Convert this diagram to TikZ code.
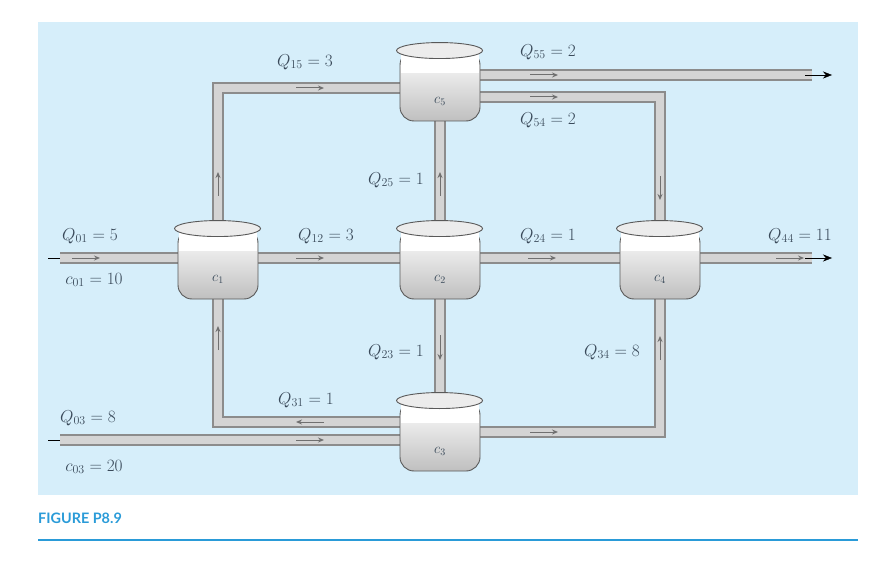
\documentclass[tikz,border=0pt]{standalone}
\usepackage{fontspec}
\setmainfont{Lato}
\usetikzlibrary{arrows.meta,calc}
\definecolor{bg}{HTML}{D6EEFA}
\definecolor{capblue}{HTML}{2A9BD8}
\definecolor{pipeg}{HTML}{8C8C8C}
\definecolor{pipel}{HTML}{D4D4D4}
\definecolor{txt}{HTML}{3A4A5A}
\tikzset{
 pipeo/.style={draw=pipeg,line width=12pt},
 pipei/.style={draw=pipel,line width=8pt},
 flow/.style={draw=pipeg!80!black,line width=1pt,-{Stealth[length=6pt,width=5pt]}},
 lbl/.style={text=txt,font=\LARGE},
 beaker/.style={draw=gray!70!black,line width=0.9pt,minimum width=80pt,minimum height=70pt,
   rounded corners=14pt,top color=white,bottom color=gray!50,inner sep=0pt},
 rim/.style={draw=gray!70!black,line width=0.9pt,fill=gray!15}
}
\newcommand{\pipeline}[1]{\draw[pipeo] #1; \draw[pipei] #1;}
\newcommand{\mybeaker}[4]{%
 \node[beaker] (#1) at (#2,#3) {};
 \fill[white] ($(#1.north west)+(1,1)$) rectangle ($(#1.north east)+(-1,22)$);
 \draw[rim] ($(#1.north west)+(-3,0)$) arc[start angle=180,end angle=360,x radius=43,y radius=8]
   arc[start angle=0,end angle=180,x radius=43,y radius=8];
 \node[text=txt,font=\Large] at ($(#1.south)+(0,-20)$) {$#4$};}
\begin{document}
\begin{tikzpicture}[x=1pt,y=-1pt]
\useasboundingbox (0,0) rectangle (892,575);
\fill[bg] (38,22) rectangle (858,495);
\node[anchor=west,text=capblue,font=\Large\bfseries,inner sep=0pt] (cap) at (38,518) {FIGURE P8.9};
\draw[capblue,line width=1.5pt] (38,540) -- (858,540);
\coordinate (in1) at (60,258);
\coordinate (out4) at (812,258);
\coordinate (out5) at (812,75);
\coordinate (in3) at (60,440);
\pipeline{(218,258) -- (218,88) -- (440,88)}
\pipeline{(440,75) -- (out5)}
\pipeline{(440,97) -- (660,97) -- (660,258)}
\pipeline{(440,80) -- (440,430)}
\pipeline{(in1) -- (out4)}
\pipeline{(440,422) -- (218,422) -- (218,258)}
\pipeline{(440,432) -- (660,432) -- (660,258)}
\pipeline{(in3) -- (440,440)}
\draw[black,line width=0.8pt] (48,258) -- (60,258);
\draw[black,line width=0.8pt] (48,440) -- (60,440);
\draw[-{Stealth[length=9pt,width=7pt]},black] (805,258) -- (832,258);
\draw[-{Stealth[length=9pt,width=7pt]},black] (805,75) -- (832,75);
\draw[flow] (72,258) -- (100,258);
\draw[flow] (296,258) -- (324,258);
\draw[flow] (528,258) -- (556,258);
\draw[flow] (776,258) -- (804,258);
\draw[flow] (296,88) -- (324,88);
\draw[flow] (218,196) -- (218,172);
\draw[flow] (530,75) -- (558,75);
\draw[flow] (530,97) -- (558,97);
\draw[flow] (660,176) -- (660,200);
\draw[flow] (440,196) -- (440,172);
\draw[flow] (440,335) -- (440,360);
\draw[flow] (660,360) -- (660,336);
\draw[flow] (324,422) -- (296,422);
\draw[flow] (218,350) -- (218,326);
\draw[flow] (296,440) -- (324,440);
\draw[flow] (530,432) -- (558,432);
\mybeaker{b5}{440}{86}{c_5}
\mybeaker{b1}{218}{264}{c_1}
\mybeaker{b2}{440}{264}{c_2}
\mybeaker{b4}{660}{264}{c_4}
\mybeaker{b3}{440}{436}{c_3}
\node[lbl] at (305,62) {$Q_{15}=3$};
\node[lbl] at (548,52) {$Q_{55}=2$};
\node[lbl] at (548,120) {$Q_{54}=2$};
\node[lbl] at (396,180) {$Q_{25}=1$};
\node[lbl] at (90,236) {$Q_{01}=5$};
\node[lbl] at (94,280) {$c_{01}=10$};
\node[lbl] at (326,236) {$Q_{12}=3$};
\node[lbl] at (548,236) {$Q_{24}=1$};
\node[lbl] at (800,236) {$Q_{44}=11$};
\node[lbl] at (396,352) {$Q_{23}=1$};
\node[lbl] at (612,352) {$Q_{34}=8$};
\node[lbl] at (306,400) {$Q_{31}=1$};
\node[lbl] at (88,418) {$Q_{03}=8$};
\node[lbl] at (94,467) {$c_{03}=20$};
\end{tikzpicture}
\end{document}
